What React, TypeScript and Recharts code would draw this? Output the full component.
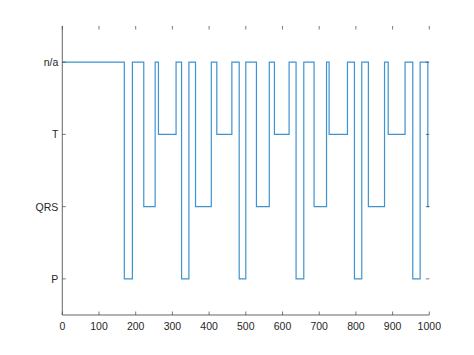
import React from 'react';
import { LineChart, Line, XAxis, YAxis } from 'recharts';

// start of each segment (sample index) and the label held from there on
const segmentStart = [0, 169, 191, 222, 253, 262, 310, 325, 345, 363, 406, 421, 462, 482, 500, 529, 564, 578, 618, 637, 658, 686, 720, 727, 777, 796, 816, 834, 878, 888, 934, 955, 975, 996, 1000];
const segmentLabel = ['n/a', 'P', 'n/a', 'QRS', 'n/a', 'T', 'n/a', 'P', 'n/a', 'QRS', 'n/a', 'T', 'n/a', 'P', 'n/a', 'QRS', 'n/a', 'T', 'n/a', 'P', 'n/a', 'QRS', 'n/a', 'T', 'n/a', 'P', 'n/a', 'QRS', 'n/a', 'T', 'n/a', 'P', 'n/a', 'QRS', 'QRS'];

const categories = ['P', 'QRS', 'T', 'n/a'];
const xTicks = [0, 100, 200, 300, 400, 500, 600, 700, 800, 900, 1000];
const yTicks = [1, 2, 3, 4];

const data = segmentStart.map((x, i) => ({ x, v: categories.indexOf(segmentLabel[i]) + 1 }));

const AXIS = '#404040';
const TXT = '#262626';
const FONT = 'Liberation Sans, Arial, sans-serif';
const TOP = 26;
const RIGHT = 429.3;

// ticks point inward on both sides of the box (matlab style)
const BottomTick = (p: any) => (
  <g>
    <line x1={p.x} y1={p.y} x2={p.x} y2={p.y - 3.5} stroke={AXIS} strokeWidth={0.7} />
    <line x1={p.x} y1={TOP} x2={p.x} y2={TOP + 3.5} stroke={AXIS} strokeWidth={0.7} />
    <text x={p.x} y={p.y + 15} textAnchor="middle" fontSize={10.5} fill={TXT} fontFamily={FONT}>{p.payload.value}</text>
  </g>
);
const LeftTick = (p: any) => (
  <g>
    <line x1={p.x} y1={p.y} x2={p.x + 3.5} y2={p.y} stroke={AXIS} strokeWidth={0.7} />
    <line x1={RIGHT} y1={p.y} x2={RIGHT - 3.5} y2={p.y} stroke={AXIS} strokeWidth={0.7} />
    <text x={p.x - 4} y={p.y + 4} textAnchor="end" fontSize={10.5} fill={TXT} fontFamily={FONT}>{categories[p.payload.value - 1]}</text>
  </g>
);

export default function App() {
  return (
    <div style={{ position: 'absolute', left: 0, top: 0, width: 474, height: 355, background: '#fff' }}>
      <LineChart width={474} height={355} data={data} margin={{ top: TOP, right: 474 - RIGHT, bottom: 10, left: 0 }}>
        <XAxis dataKey="x" type="number" domain={[0, 1000]} ticks={xTicks} height={30} tickSize={0} tickMargin={0}
          tickLine={false} axisLine={{ stroke: AXIS, strokeWidth: 0.8 }} tick={<BottomTick />} interval={0} />
        <XAxis xAxisId="top" dataKey="x" type="number" orientation="top" domain={[0, 1000]} height={0}
          tick={false} tickLine={false} axisLine={{ stroke: AXIS, strokeWidth: 0.8 }} />
        <YAxis type="number" domain={[0.5, 4.5]} ticks={yTicks} width={RIGHT - 367} tickSize={0} tickMargin={0}
          tickLine={false} axisLine={{ stroke: AXIS, strokeWidth: 0.8 }} tick={<LeftTick />} interval={0} />
        <YAxis yAxisId="right" type="number" orientation="right" domain={[0.5, 4.5]} width={0}
          tick={false} tickLine={false} axisLine={{ stroke: AXIS, strokeWidth: 0.8 }} />
        <Line type="stepAfter" dataKey="v" stroke="#3f93cf" strokeWidth={1.2} dot={false} isAnimationActive={false} />
      </LineChart>
    </div>
  );
}
